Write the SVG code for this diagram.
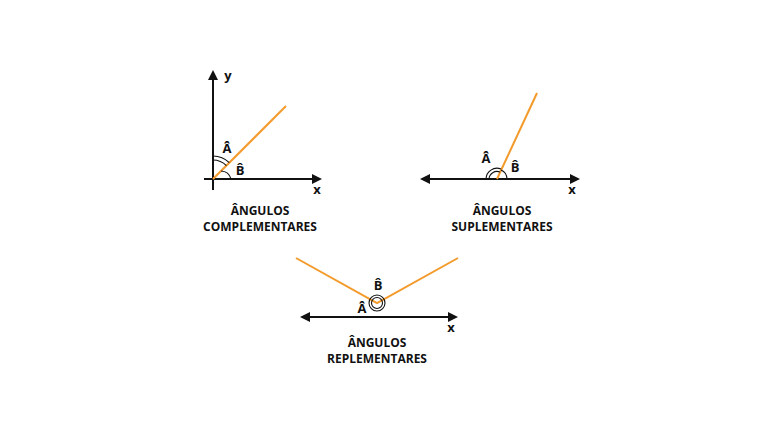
<svg xmlns="http://www.w3.org/2000/svg" width="768" height="435" viewBox="0 0 768 435">
<style>
.ax{stroke:#111;stroke-width:2;fill:none}
.or{stroke:#f39a2b;stroke-width:2;fill:none}
.arc{stroke:#111;stroke-width:1.1;fill:none}
.t{font-family:"Open Sans","Liberation Sans",sans-serif;font-weight:bold;font-size:12px;fill:#111;text-anchor:middle}
.l{font-family:"Open Sans","Liberation Sans",sans-serif;font-weight:bold;font-size:13px;fill:#111;text-anchor:middle}
</style>
<defs>
<marker id="ah" markerWidth="10" markerHeight="10" refX="8" refY="5" orient="auto-start-reverse" markerUnits="userSpaceOnUse">
<path d="M0,0 L10,5 L0,10 Z" fill="#111"/>
</marker>
</defs>
<rect width="768" height="435" fill="#fff"/>
<g id="connectors">
<line class="ax" x1="213" y1="190" x2="213" y2="72" marker-end="url(#ah)"/>
<line class="ax" x1="204" y1="179" x2="320" y2="179" marker-end="url(#ah)"/>
<line class="ax" x1="422" y1="179" x2="578" y2="179" marker-start="url(#ah)" marker-end="url(#ah)"/>
<line class="ax" x1="302" y1="317" x2="456" y2="317" marker-start="url(#ah)" marker-end="url(#ah)"/>
</g>
<g id="complementares">
<line class="or" x1="213" y1="179" x2="286" y2="106"/>
<path class="arc" d="M213,156 A23,23 0 0 1 229.3,162.7"/>
<path class="arc" d="M213,160 A19,19 0 0 1 226.4,165.6"/>
<path class="arc" d="M221,171 A11,11 0 0 1 231,179"/>
<text class="l" x="228" y="80">y</text>
<text class="l" x="317" y="194">x</text>
<text class="l" x="227" y="153">Â</text>
<text class="l" x="240" y="175">B̂</text>
<text class="t" x="260" y="215">ÂNGULOS</text>
<text class="t" x="260" y="231">COMPLEMENTARES</text>
</g>
<g id="suplementares">
<line class="or" x1="497" y1="179" x2="537" y2="93"/>
<path class="arc" d="M486,179 A11,11 0 0 1 501,169"/>
<path class="arc" d="M489,179 A8,8 0 0 1 500,172"/>
<path class="arc" d="M501,170 A10,10 0 0 1 507,179"/>
<text class="l" x="486" y="163">Â</text>
<text class="l" x="515" y="172">B̂</text>
<text class="l" x="572" y="194">x</text>
<text class="t" x="502" y="215">ÂNGULOS</text>
<text class="t" x="502" y="231">SUPLEMENTARES</text>
</g>
<g id="replementares">
<polyline class="or" points="296,258 377,303 458,258"/>
<circle class="arc" cx="377" cy="303" r="8"/>
<circle class="arc" cx="377" cy="303" r="5.5"/>
<text class="l" x="378" y="290">B̂</text>
<text class="l" x="362" y="313">Â</text>
<text class="l" x="451" y="332">x</text>
<text class="t" x="377" y="347">ÂNGULOS</text>
<text class="t" x="377" y="363">REPLEMENTARES</text>
</g>
</svg>
